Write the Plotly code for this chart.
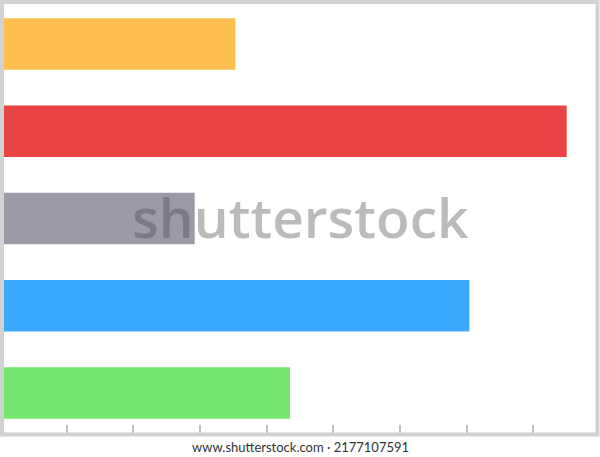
import plotly.graph_objects as go

# Data (top to bottom)
categories = ["Yellow", "Red", "Gray", "Blue", "Green"]
values = [3.53, 8.5, 2.92, 7.04, 4.35]
colors = ["#FDBF4F", "#E84444", "#9C9AA4", "#3BA9FC", "#76E872"]
tick_values = [1, 2, 3, 4, 5, 6, 7, 8]

W, H = 600, 457
L, R, T, B = 4, 5, 4, 24  # plot area: x 4..595, y 4..433
pw, ph = W - L - R, H - T - B

def px_x(p):
    return (p - L) / pw

def px_y(p):
    return (H - B - p) / ph

fig = go.Figure(
    go.Bar(
        y=categories,
        x=values,
        orientation="h",
        marker=dict(color=colors, line=dict(width=0)),
        width=0.59,
        hoverinfo="skip",
    )
)

fig.update_layout(
    width=W,
    height=H,
    margin=dict(l=L, r=R, t=T, b=B, pad=0),
    paper_bgcolor="white",
    plot_bgcolor="white",
    showlegend=False,
    xaxis=dict(
        range=[L / 66.67, (W - R) / 66.67],
        tickvals=tick_values,
        ticks="inside",
        ticklen=8,
        tickwidth=1.5,
        tickcolor="#c4c4c4",
        showticklabels=False,
        showgrid=False,
        zeroline=False,
        showline=False,
        fixedrange=True,
    ),
    yaxis=dict(
        type="category",
        categoryorder="array",
        categoryarray=categories,
        range=[4.458, -0.458],
        showticklabels=False,
        showgrid=False,
        zeroline=False,
        showline=False,
        ticks="",
        fixedrange=True,
    ),
    shapes=[
        dict(
            type="rect",
            xref="paper",
            yref="paper",
            x0=px_x(2),
            x1=px_x(597.5),
            y0=px_y(434.5),
            y1=px_y(2),
            line=dict(color="#d2d2d2", width=4),
            fillcolor="rgba(0,0,0,0)",
            layer="above",
        )
    ],
    annotations=[
        dict(
            text="shutterstock",
            xref="paper",
            yref="paper",
            x=px_x(300),
            y=px_y(217),
            xanchor="center",
            yanchor="middle",
            showarrow=False,
            font=dict(family="Open Sans", size=55, color="rgba(70,70,70,0.37)", weight=600),
        ),
        dict(
            text="www.shutterstock.com · 2177107591",
            xref="paper",
            yref="paper",
            x=px_x(300),
            y=px_y(447),
            xanchor="center",
            yanchor="middle",
            showarrow=False,
            font=dict(family="Lato", size=13, color="#333333"),
        ),
    ],
)

fig.write_html(
    "out.html",
    config={"displayModeBar": False},
    post_script="document.body.style.margin='0';document.body.style.overflow='hidden';",
)
